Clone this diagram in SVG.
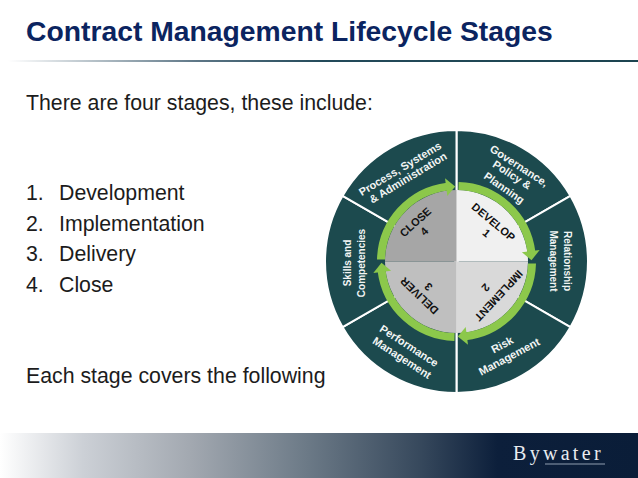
<svg xmlns="http://www.w3.org/2000/svg" width="638" height="478" viewBox="0 0 638 478">
<style>
text{font-family:"Liberation Sans",Arial,sans-serif}
.body{font-size:21.3px;fill:#1c1c1c}
.title{font-size:28.3px;font-weight:bold;fill:#0b2460}
.ring{font-size:11px;font-weight:bold;fill:#f2f5f4;text-anchor:middle}
.st{font-size:11px;font-weight:bold;fill:#111;text-anchor:middle}
.sec{fill:#1c4a4e;stroke:#fff;stroke-width:2}
</style>
<defs>
<linearGradient id="rule" x1="0" x2="1" y1="0" y2="0"><stop offset="0" stop-color="#fff"/><stop offset=".3" stop-color="#5d7686"/><stop offset=".5" stop-color="#234a5a"/><stop offset="1" stop-color="#1c4450"/></linearGradient>
<linearGradient id="foot" x1="0" x2="1" y1="0" y2="0"><stop offset="0" stop-color="#fff"/><stop offset=".13" stop-color="#ccd0d6"/><stop offset=".3" stop-color="#a2a8b0"/><stop offset=".48" stop-color="#6c7a87"/><stop offset=".66" stop-color="#36485c"/><stop offset=".78" stop-color="#0c1f3b"/><stop offset="1" stop-color="#0a1d38"/></linearGradient>
<g id="arc">
<path d="M458.5 186A75.5 75.5 0 0 1 531.4 252.3" fill="none" stroke="#8cc84b" stroke-width="8"/>
<path d="M521.9 252.3L539.7 250L531.5 260.2Z" fill="#8cc84b"/>
</g>
</defs>
<rect width="638" height="478" fill="#fff"/>
<g id="header">
<text class="title" x="26" y="41">Contract Management Lifecycle Stages</text>
<rect x="8" y="60" width="630" height="2" fill="url(#rule)"/>
</g>
<g id="bodytext">
<text class="body" x="26" y="110">There are four stages, these include:</text>
<text class="body" x="26" y="200">1.</text><text class="body" x="59" y="200">Development</text>
<text class="body" x="26" y="231">2.</text><text class="body" x="59" y="231">Implementation</text>
<text class="body" x="26" y="261">3.</text><text class="body" x="59" y="261">Delivery</text>
<text class="body" x="26" y="292">4.</text><text class="body" x="59" y="292">Close</text>
<text class="body" x="26" y="383">Each stage covers the following</text>
</g>
<g id="footer">
<rect x="0" y="433" width="638" height="45" fill="url(#foot)"/>
<text x="513" y="460" font-size="20" letter-spacing="3.3" style="font-family:'Liberation Serif',serif" fill="#e8ebef">Bywater</text>
<rect x="545" y="463.5" width="60" height="1" fill="#8f9db0"/>
</g>
<g id="sector-governance">
<path class="sec" d="M456.5 261.5L456.5 130A131.5 131.5 0 0 1 570.4 195.8Z"/>
<text class="ring" transform="translate(517 169) rotate(33)">Governance,</text>
<text class="ring" transform="translate(510 178) rotate(33)">Policy &amp;</text>
<text class="ring" transform="translate(502 191) rotate(35)">Planning</text>
</g>
<g id="sector-relationship">
<path class="sec" d="M456.5 261.5L570.4 195.8A131.5 131.5 0 0 1 570.4 327.2Z"/>
<text class="ring" style="font-size:10px" transform="translate(564 261) rotate(90)">Relationship</text>
<text class="ring" style="font-size:10px" transform="translate(550 261) rotate(90)">Management</text>
</g>
<g id="sector-risk">
<path class="sec" d="M456.5 261.5L570.4 327.2A131.5 131.5 0 0 1 456.5 393Z"/>
<text class="ring" transform="translate(504 348) rotate(-28)">Risk</text>
<text class="ring" transform="translate(511 360) rotate(-28)">Management</text>
</g>
<g id="sector-performance">
<path class="sec" d="M456.5 261.5L456.5 393A131.5 131.5 0 0 1 342.6 327.2Z"/>
<text class="ring" transform="translate(407 349) rotate(33)">Performance</text>
<text class="ring" transform="translate(400 361) rotate(33)">Management</text>
</g>
<g id="sector-skills">
<path class="sec" d="M456.5 261.5L342.6 327.2A131.5 131.5 0 0 1 342.6 195.8Z"/>
<text class="ring" style="font-size:10px" transform="translate(351 263) rotate(-90)">Skills and</text>
<text class="ring" style="font-size:10px" transform="translate(365 263) rotate(-90)">Competencies</text>
</g>
<g id="sector-process">
<path class="sec" d="M456.5 261.5L342.6 195.8A131.5 131.5 0 0 1 456.5 130Z"/>
<text class="ring" transform="translate(402 172) rotate(-31)">Process, Systems</text>
<text class="ring" transform="translate(410 181) rotate(-31)">&amp; Administration</text>
</g>
<g id="stage-develop">
<path d="M456.5 261.5V190A71.5 71.5 0 0 1 528 261.5Z" fill="#f0f0f0"/>
<text class="st" transform="translate(491 225) rotate(40)">DEVELOP</text>
<text class="st" transform="translate(484 236) rotate(40)">1</text>
</g>
<g id="stage-implement">
<path d="M456.5 261.5H528A71.5 71.5 0 0 1 456.5 333Z" fill="#d9d9d9"/>
<text class="st" transform="translate(496 293) rotate(133)">IMPLEMENT</text>
<text class="st" transform="translate(483 285) rotate(133)">2</text>
</g>
<g id="stage-deliver">
<path d="M456.5 261.5V333A71.5 71.5 0 0 1 385 261.5Z" fill="#bfbfbf"/>
<text class="st" transform="translate(422 293) rotate(224)">DELIVER</text>
<text class="st" transform="translate(431 284) rotate(224)">3</text>
</g>
<g id="stage-close">
<path d="M456.5 261.5H385A71.5 71.5 0 0 1 456.5 190Z" fill="#a6a6a6"/>
<text class="st" transform="translate(418 225) rotate(-42)">CLOSE</text>
<text class="st" transform="translate(427 234) rotate(-45)">4</text>
</g>
<g id="connectors">
<use href="#arc"/>
<use href="#arc" transform="rotate(90 456.5 261.5)"/>
<use href="#arc" transform="rotate(180 456.5 261.5)"/>
<use href="#arc" transform="rotate(270 456.5 261.5)"/>
</g>
</svg>
